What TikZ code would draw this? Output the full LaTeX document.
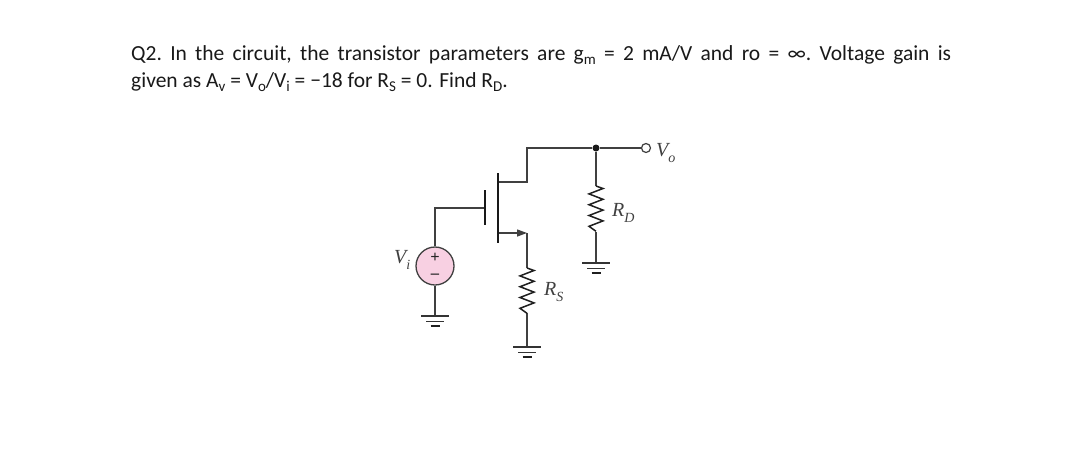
\documentclass[tikz,border=0pt]{standalone}
\usepackage{fontspec}
\setmainfont{Carlito}
\newfontfamily\ckt{Liberation Serif}
\usetikzlibrary{arrows.meta}
\definecolor{srcpink}{RGB}{248,208,226}
\newcommand{\lowidx}[1]{\raisebox{-0.2em}{\fontsize{15}{16}\selectfont #1}}
\tikzset{
  x=1pt,y=-1pt,
  wire/.style={draw=black!75,line width=1.3pt},
  plate/.style={draw=black!90,line width=2.6pt},
  q/.style={inner sep=0pt,anchor=base west,text=black!90,font=\fontsize{21.5}{24}\selectfont},
  lab/.style={inner sep=0pt,anchor=base west,text=black!75,font=\ckt\itshape\fontsize{20}{22}\selectfont},
  sym/.style={inner sep=0pt,text=black!85,font=\ckt\bfseries\fontsize{16.5}{17}\selectfont},
  res/.pic={\draw[draw=black!88,line width=1.5pt,line join=miter]
    (0,0) -- ++(7,2.5) -- ++(-14,5.4) -- ++(14,5.4) -- ++(-14,5.4) -- ++(14,5.4)
    -- ++(-14,5.4) -- ++(14,5.4) -- ++(-14,5.4) -- ++(7,5);},
  gnd/.pic={\draw[draw=black!80,line width=1.3pt] (-14,0) -- (14,0);
    \draw[draw=black!80,line width=1.3pt] (-9,5.5) -- (9,5.5);
    \draw[draw=black!88,line width=1.8pt] (-4.5,10) -- (4.5,10);},
}
\begin{document}
\begin{tikzpicture}
\useasboundingbox (0,0) rectangle (1080,464);
\node[q] (l1) at (131,60.6) {\hbox to 820pt{\frenchspacing\spaceskip=0.2em plus 1fil Q2. In the circuit, the transistor parameters are g\lowidx{m} = 2 mA/V and ro = ∞. Voltage gain is}};
\node[q] (l2) at (131,87) {given as A\lowidx{v} = V\lowidx{o}/V\lowidx{i} = −18 for R\lowidx{S} = 0. Find R\lowidx{D}.};

\coordinate (dtop) at (527,148);
\coordinate (dmid) at (527,182);
\coordinate (dch) at (498,182);
\coordinate (sch) at (498,233);
\coordinate (smid) at (527,233);
\coordinate (gpl) at (485,208);
\coordinate (gcor) at (435,208);
\coordinate (rst) at (527,268);
\coordinate (rsb) at (527,313);
\coordinate (gs) at (527,347);
\coordinate (rdt) at (596,186);
\coordinate (rdb) at (596,232);
\coordinate (gd) at (596,263);
\coordinate (gv) at (435,316);

\node[circle,draw=black!75,line width=1.2pt,fill=white,minimum size=9pt,inner sep=0pt] (vo) at (646,148) {};
\node[circle,fill=black!90,minimum size=7pt,inner sep=0pt] (j) at (596,148) {};
\node[circle,draw=black!75,line width=1.3pt,fill=srcpink,minimum size=38pt,inner sep=0pt] (vs) at (435,266) {};
\node[sym] (pl) at (435,257.5) {+};
\node[sym] (mi) at (435,276) {–};

\draw[wire] (vo) -- (j) -- (dtop) -- (dmid) -- (dch);
\draw[wire] (j) -- (rdt);
\draw[wire] (rdb) -- (gd);
\draw[wire] (gpl) -- (gcor) -- (vs);
\draw[wire] (vs) -- (gv);
\draw[wire] (smid) -- (rst);
\draw[wire] (rsb) -- (gs);
\draw[wire,-{Triangle[length=10pt,width=7pt]}] (sch) -- (smid);
\draw[plate] (498,173) -- (498,243);
\draw[plate] (485,190) -- (485,225);

\pic at (rst) {res};
\pic at (rdt) {res};
\pic at (gs) {gnd};
\pic at (gd) {gnd};
\pic at (gv) {gnd};

\node[lab] (vol) at (656,156) {V\raisebox{-0.3em}{\fontsize{14}{15}\selectfont o}};
\node[lab] (rdl) at (612,216) {R\raisebox{-0.3em}{\fontsize{14}{15}\selectfont D}};
\node[lab] (rsl) at (544,295) {R\raisebox{-0.3em}{\fontsize{14}{15}\selectfont S}};
\node[lab] (vil) at (394,263) {V\raisebox{-0.3em}{\fontsize{14}{15}\selectfont i}};
\end{tikzpicture}
\end{document}
